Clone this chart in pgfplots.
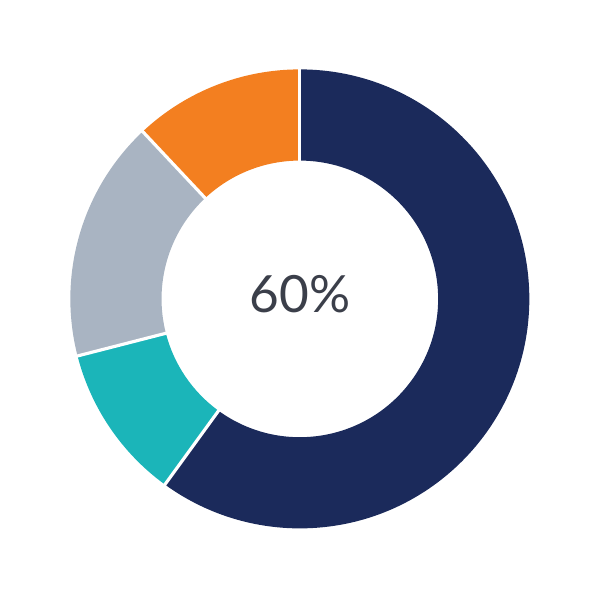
\documentclass[border=0pt]{standalone}
\usepackage{fontspec}
\setmainfont{Lato}
\usepackage{pgfplots}
\pgfplotsset{compat=1.18}

\definecolor{navy}{HTML}{1B2A5B}
\definecolor{tealc}{HTML}{1BB5B9}
\definecolor{grayc}{HTML}{A9B4C2}
\definecolor{orangec}{HTML}{F37F20}
\definecolor{txt}{HTML}{3B3F4A}

% slice shares in percent, clockwise from the top
\def\slices{60/navy,11/tealc,17/grayc,12/orangec}
\def\ro{2.295cm}
\def\ri{1.383cm}

\begin{document}
\begin{tikzpicture}
\useasboundingbox (0,0) rectangle (6cm,5.99cm);
\begin{axis}[
    hide axis,
    scale only axis,
    x=0.01cm, y=0.01cm,
    xmin=0, xmax=600,
    ymin=0, ymax=599,
    clip=false,
]
\pgfplotsextra{
  \begin{scope}[shift={(axis cs:300,300.3)}]
    \foreach \v/\c [remember=\e as \s (initially 90),
                    evaluate=\v as \e using {\s-3.6*\v}] in \slices {
      \fill[\c] (\s:\ro) arc[start angle=\s, end angle=\e, radius=\ro]
        -- (\e:\ri) arc[start angle=\e, end angle=\s, radius=\ri] -- cycle;
    }
    \foreach \v [remember=\e as \s (initially 90),
                 evaluate=\v as \e using {\s-3.6*\v}] in {60,11,17,12} {
      \draw[white, line width=0.9pt] (\s:{\ri-0.05cm}) -- (\s:{\ro+0.05cm});
    }
    \node[txt, font=\fontsize{14.6}{18}\selectfont] at (0,0.045cm) {60\%};
  \end{scope}
}
\end{axis}
\end{tikzpicture}
\end{document}
